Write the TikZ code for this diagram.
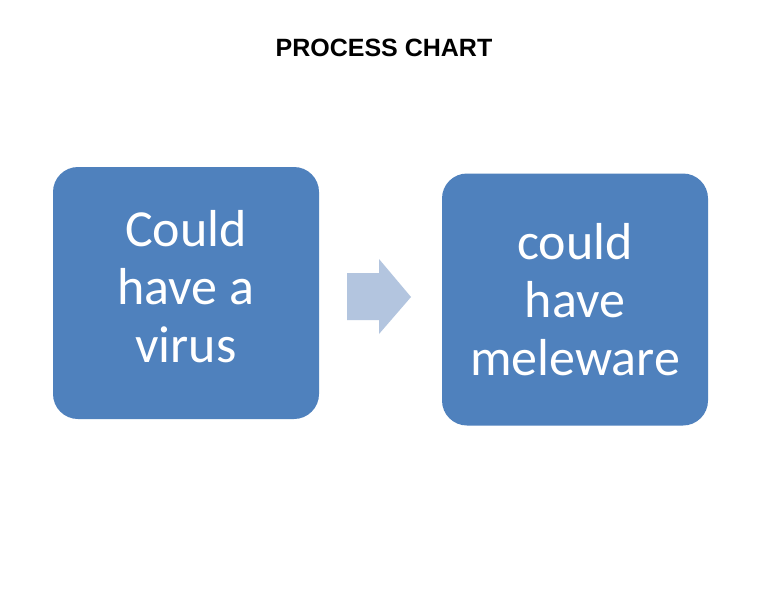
\documentclass[tikz,border=0pt]{standalone}
\usepackage{fontspec}
\setmainfont{Carlito}
\newfontfamily\titlefont{Liberation Sans}
\definecolor{boxblue}{HTML}{4F81BD}
\definecolor{arrowblue}{HTML}{B3C5DF}
\begin{document}
\begin{tikzpicture}[x=1pt,y=-1pt,
  stepbox/.style={fill=boxblue, rounded corners=25pt, minimum width=266pt, minimum height=252pt,
    inner sep=0pt, text=white, align=center, font=\fontsize{52}{58}\selectfont}]
\useasboundingbox (0,0) rectangle (768,594);
\fill[white] (0,0) rectangle (768,594);
\node[font=\titlefont\bfseries\fontsize{25}{30}\selectfont] (title) at (384,48) {PROCESS CHART};
\node[stepbox] (b1) at (186,293) {\raisebox{3pt}{\begin{tabular}{@{}c@{}}Could\\have a\\virus\end{tabular}}};
\node[stepbox] (b2) at (575,299.5) {could\\have\\meleware};
\fill[arrowblue] (347,273) -- (379,273) -- (379,259) -- (411,297) -- (379,334) -- (379,320) -- (347,320) -- cycle;
\end{tikzpicture}
\end{document}
